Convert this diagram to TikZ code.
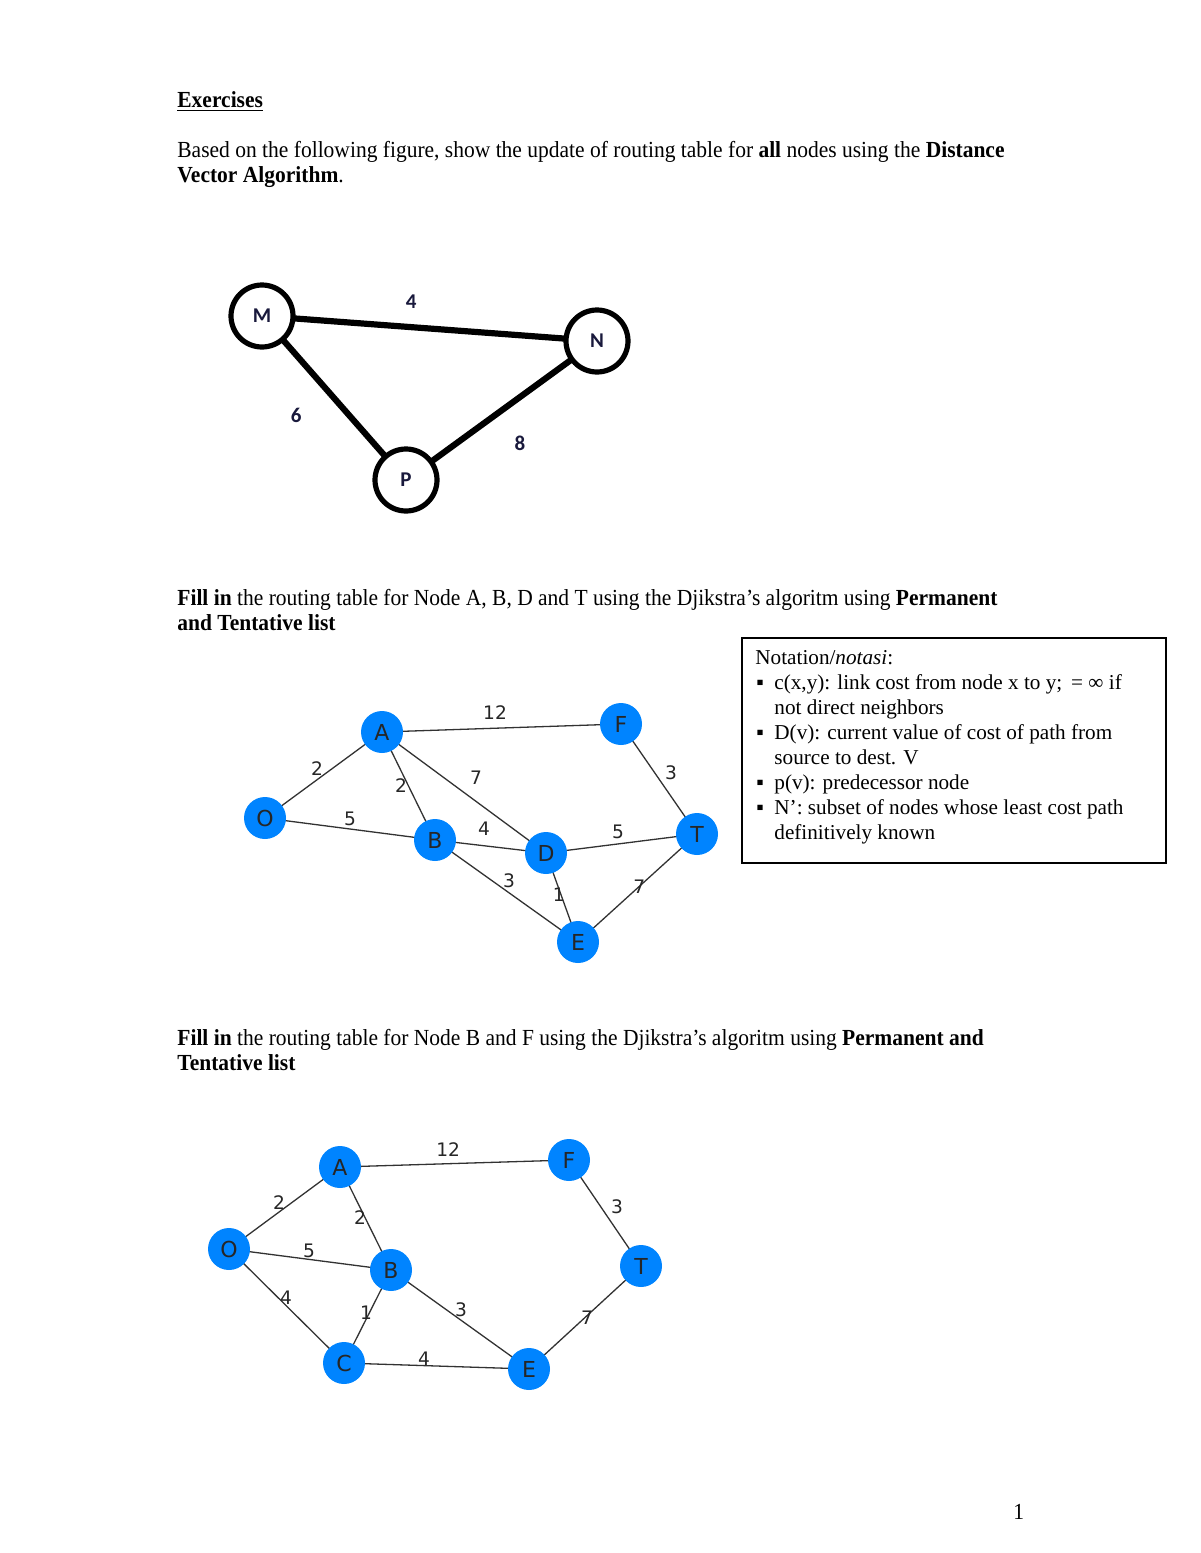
\documentclass[tikz,border=0pt]{standalone}
\usepackage{fontspec}
\setmainfont{Liberation Serif}
\newfontfamily\bodyfont{Liberation Serif}[FakeStretch=0.935]
\newfontfamily\nodefont{DejaVu Sans}
\newfontfamily\costfont{Carlito}
\usetikzlibrary{backgrounds}
\definecolor{nodeblue}{RGB}{0,132,255}
\definecolor{lblnavy}{RGB}{25,25,60}
\definecolor{edgegray}{RGB}{50,50,50}

\begin{document}
\begin{tikzpicture}[x=0.5pt, y=-0.5pt,
  txt/.style = {anchor=base west, inner sep=0pt, font=\bodyfont\fontsize{11.5}{13}\selectfont},
  note/.style = {anchor=base west, inner sep=0pt, font=\fontsize{10.6}{12}\selectfont},
  ring/.style = {draw, circle, line width=2.6pt, minimum size=31pt, fill=white, inner sep=0pt, font=\costfont\bfseries\fontsize{10.5}{11}\selectfont, text=lblnavy},
  heavy/.style = {line width=3.1pt},
  cost/.style = {inner sep=0pt, font=\costfont\bfseries\fontsize{10.5}{11}\selectfont, text=lblnavy},
  main/.style = {circle, fill=nodeblue, minimum size=21pt, inner sep=0pt, font=\nodefont\fontsize{11}{11}\selectfont, text=black!85},
  link/.style = {edgegray, line width=0.65pt},
  wt/.style = {inner sep=0pt, font=\nodefont\fontsize{9.3}{10}\selectfont, text=black!85}]
\useasboundingbox (0,0) rectangle (1200,1553);

% page text
\node[txt] (title) at (177,107) {\textbf{\underline{Exercises}}};
\node[txt] (q1a) at (177,157) {Based on the following figure, show the update of routing table for \textbf{all} nodes using the \textbf{Distance}};
\node[txt] (q1b) at (177,182) {\textbf{Vector Algorithm}.};
\node[txt] (q2a) at (177,605) {\textbf{Fill in} the routing table for Node A, B, D and T using the Djikstra’s algoritm using \textbf{Permanent}};
\node[txt] (q2b) at (177,630) {\textbf{and Tentative list}};
\node[txt] (q3a) at (177,1045) {\textbf{Fill in} the routing table for Node B and F using the Djikstra’s algoritm using \textbf{Permanent and}};
\node[txt] (q3b) at (177,1070) {\textbf{Tentative list}};
\node[txt] (page) at (1013,1519) {1};

% notation box
\node[draw, line width=1pt, minimum width=212pt, minimum height=112.5pt, anchor=north west] (notebox) at (741,637) {};
\node[note] (n0) at (755,664) {Notation/\textit{notasi}:};
\node[note] (b1) at (756,689) {▪};
\node[note] (n1) at (774,689) {c(x,y): link cost from node x to y;\, = ∞ if};
\node[note] (n2) at (774,714) {not direct neighbors};
\node[note] (b2) at (756,739) {▪};
\node[note] (n3) at (774,739) {D(v): current value of cost of path from};
\node[note] (n4) at (774,764) {source to dest. V};
\node[note] (b3) at (756,789) {▪};
\node[note] (n5) at (774,789) {p(v): predecessor node};
\node[note] (b4) at (756,814) {▪};
\node[note] (n6) at (774,814) {N': subset of nodes whose least cost path};
\node[note] (n7) at (774,839) {definitively known};

% distance vector graph
\node[ring] (M) at (262,316) {M};
\node[ring] (N) at (597,341) {N};
\node[ring] (P) at (406,480) {P};
\begin{scope}[on background layer]
\draw[heavy] (M.center) -- node[cost, pos=.445, yshift=12.5pt] {4} (N.center);
\draw[heavy] (M.center) -- node[cost, pos=.445, xshift=-15pt, yshift=-13pt] {6} (P.center);
\draw[heavy] (N.center) -- node[cost, pos=.518, xshift=11pt, yshift=-15pt] {8} (P.center);
\end{scope}

% first dijkstra graph
\node[main] (A) at (382,732) {A};
\node[main] (F) at (621,724) {F};
\node[main] (O) at (265,818) {O};
\node[main] (B) at (435,840) {B};
\node[main] (D) at (546,853) {D};
\node[main] (T) at (697,834) {T};
\node[main] (E) at (578,942) {E};
\begin{scope}[on background layer]
\draw[link] (A.center) -- node[wt, pos=.473, yshift=7.6pt] {12} (F.center);
\draw[link] (O.center) -- node[wt, pos=.488, xshift=-2.5pt, yshift=3.5pt] {2} (A.center);
\draw[link] (A.center) -- node[wt, pos=.473, xshift=-3pt, yshift=-1.5pt] {2} (B.center);
\draw[link] (A.center) -- node[wt, pos=.505, xshift=5.6pt, yshift=7.5pt] {7} (D.center);
\draw[link] (F.center) -- node[wt, pos=.514, xshift=5.5pt, yshift=3.8pt] {3} (T.center);
\draw[link] (O.center) -- node[wt, pos=.493, xshift=.6pt, yshift=4.9pt] {5} (B.center);
\draw[link] (B.center) -- node[wt, pos=.424, xshift=1pt, yshift=8.2pt] {4} (D.center);
\draw[link] (D.center) -- node[wt, pos=.487, xshift=-.8pt, yshift=5.9pt] {5} (T.center);
\draw[link] (B.center) -- node[wt, pos=.479, xshift=2.8pt, yshift=3.9pt] {3} (E.center);
\draw[link] (D.center) -- node[wt, pos=.464, xshift=-1pt, yshift=-.4pt] {1} (E.center);
\draw[link] (E.center) -- node[wt, pos=.515] {7} (T.center);
\end{scope}

% second dijkstra graph
\node[main] (A2) at (340,1167) {A};
\node[main] (F2) at (569,1160) {F};
\node[main] (O2) at (229,1249) {O};
\node[main] (B2) at (391,1270) {B};
\node[main] (T2) at (641,1266) {T};
\node[main] (C2) at (344,1363) {C};
\node[main] (E2) at (529,1369) {E};
\begin{scope}[on background layer]
\draw[link] (A2.center) -- node[wt, pos=.472, yshift=6.9pt] {12} (F2.center);
\draw[link] (O2.center) -- node[wt, pos=.49, xshift=-2.2pt, yshift=3pt] {2} (A2.center);
\draw[link] (A2.center) -- node[wt, pos=.475, xshift=-2.1pt, yshift=-1pt] {2} (B2.center);
\draw[link] (O2.center) -- node[wt, pos=.487, xshift=.6pt, yshift=4.1pt] {5} (B2.center);
\draw[link] (F2.center) -- node[wt, pos=.514, xshift=5.5pt, yshift=3.8pt] {3} (T2.center);
\draw[link] (O2.center) -- node[wt, pos=.463, xshift=1.9pt, yshift=1.9pt] {4} (C2.center);
\draw[link] (B2.center) -- node[wt, pos=.477, xshift=-1.3pt, yshift=.6pt] {1} (C2.center);
\draw[link] (B2.center) -- node[wt, pos=.472, xshift=2.4pt, yshift=3.4pt] {3} (E2.center);
\draw[link] (E2.center) -- node[wt, pos=.508, xshift=.6pt, yshift=-.6pt] {7} (T2.center);
\draw[link] (C2.center) -- node[wt, pos=.432, yshift=3.3pt] {4} (E2.center);
\end{scope}
\end{tikzpicture}
\end{document}
